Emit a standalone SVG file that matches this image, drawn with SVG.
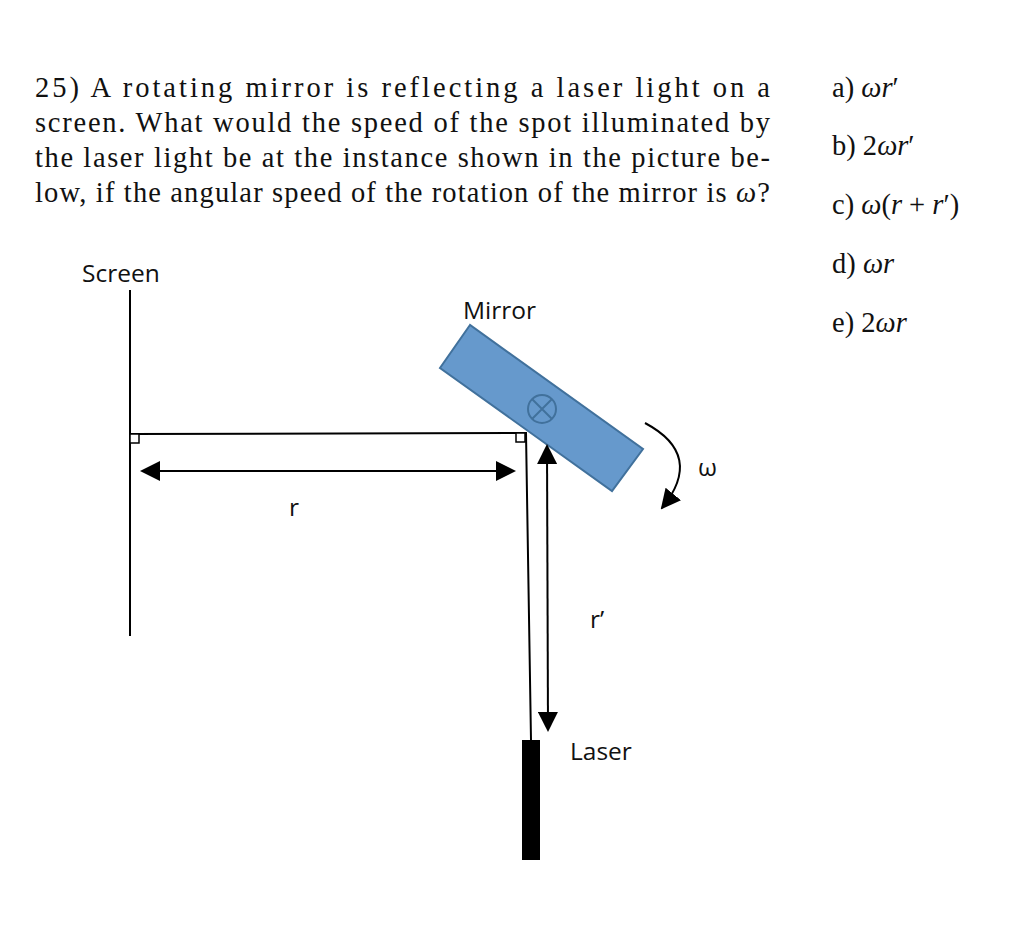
<svg xmlns="http://www.w3.org/2000/svg" width="1024" height="925" viewBox="0 0 1024 925">
<style>
.q{font-family:"Liberation Serif",serif;font-size:28.5px;fill:#111}
.l{font-family:"Open Sans","Liberation Sans",sans-serif;font-size:24.5px;fill:#111}
.ln{stroke:#000;stroke-width:2;fill:none}
</style>
<defs>
<marker id="ah2" viewBox="0 0 10 10" refX="9" refY="5" markerWidth="20" markerHeight="20" markerUnits="userSpaceOnUse" orient="auto-start-reverse"><path d="M0,0 L10,5 L0,10 z" fill="#000"/></marker>
</defs>
<rect width="1024" height="925" fill="#fff"/>
<g id="question">
<text class="q" x="35" y="97" textLength="735" lengthAdjust="spacing">25) A rotating mirror is reflecting a laser light on a</text>
<text class="q" x="35" y="132" textLength="735" lengthAdjust="spacing">screen. What would the speed of the spot illuminated by</text>
<text class="q" x="35" y="167" textLength="735" lengthAdjust="spacing">the laser light be at the instance shown in the picture be-</text>
<text class="q" x="35" y="202" textLength="735" lengthAdjust="spacing">low, if the angular speed of the rotation of the mirror is <tspan font-style="italic">ω</tspan>?</text>
</g>
<g id="answers" class="q">
<text x="832" y="97">a)  <tspan font-style="italic">ωr</tspan>′</text>
<text x="832" y="155">b)  2<tspan font-style="italic">ωr</tspan>′</text>
<text x="832" y="214">c)  <tspan font-style="italic">ω</tspan>(<tspan font-style="italic">r</tspan> + <tspan font-style="italic">r</tspan>′)</text>
<text x="832" y="273">d)  <tspan font-style="italic">ωr</tspan></text>
<text x="832" y="332">e)  2<tspan font-style="italic">ωr</tspan></text>
</g>
<g id="screen">
<line class="ln" x1="130" y1="290" x2="130" y2="636"/>
<text class="l" x="82" y="282">Screen</text>
</g>
<g id="mirror">
<polygon points="470,325 440,368 612,491 643,449" fill="#6699cc" stroke="#41719c" stroke-width="2"/>
<circle cx="542" cy="409" r="14" fill="none" stroke="#41719c" stroke-width="2"/>
<path d="M532,399 L552,419 M552,399 L532,419" stroke="#41719c" stroke-width="2"/>
<text class="l" x="463" y="319">Mirror</text>
</g>
<g id="laser">
<rect x="522" y="740" width="18" height="120" fill="#000"/>
<text class="l" x="570" y="760">Laser</text>
</g>
<g id="connectors">
<polyline class="ln" points="130,434 526,433 531,740"/>
<rect x="130" y="434" width="9" height="9" fill="#fff" stroke="#000" stroke-width="1.5"/>
<rect x="516" y="433" width="9" height="9" fill="#fff" stroke="#000" stroke-width="1.5"/>
<line class="ln" x1="142" y1="471" x2="514" y2="471" marker-start="url(#ah2)" marker-end="url(#ah2)"/>
<line class="ln" x1="547" y1="446" x2="548" y2="730" marker-start="url(#ah2)" marker-end="url(#ah2)"/>
<path class="ln" d="M645,423 Q705,455 662,508" marker-end="url(#ah2)"/>
<text class="l" x="289" y="516">r</text>
<text class="l" x="590" y="628">r’</text>
<text class="l" x="698" y="476">ω</text>
</g>
</svg>
